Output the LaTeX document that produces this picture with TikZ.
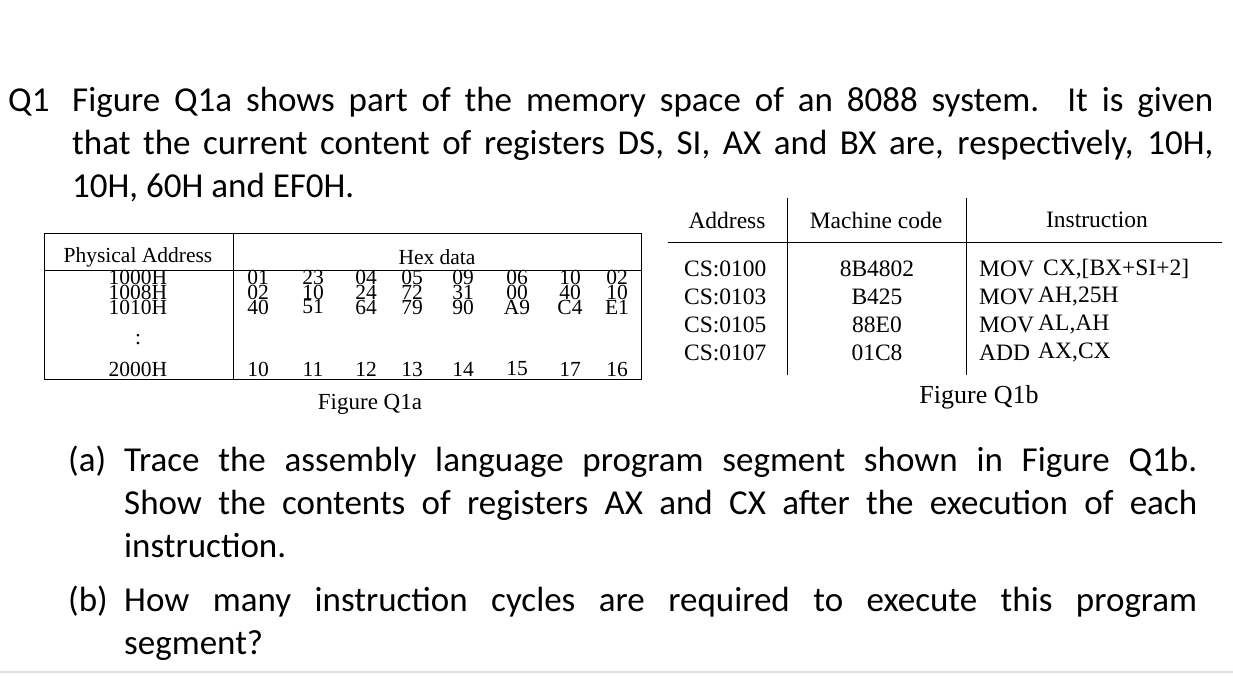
\documentclass[tikz,border=0pt]{standalone}
\usepackage{fontspec}
\setmainfont{Carlito}
\newfontfamily\tms{Liberation Serif}
\begin{document}
\begin{tikzpicture}[x=1pt,y=-1pt,
  body/.style={anchor=base west,inner sep=0pt,font=\fontsize{35}{35}\selectfont},
  tb/.style={inner sep=0pt,font=\tms\fontsize{21.5}{21.5}\selectfont},
  rb/.style={inner sep=0pt,font=\tms\fontsize{23.5}{23.5}\selectfont},
  rule/.style={line width=1pt}]
\useasboundingbox (0,0) rectangle (1233,677);
\node[body] (q) at (8,111) {Q1};
\node[body] (l1) at (72,111) {\makebox[1141pt][s]{Figure Q1a shows part of the memory space of an 8088 system. It is given}};
\node[body] (l2) at (72,154) {\makebox[1141pt][s]{that the current content of registers DS, SI, AX and BX are, respectively, 10H,}};
\node[body] (l3) at (72,197) {10H, 60H and EF0H.};
% left table
\draw[rule] (44,233) rectangle (641,379);
\draw[rule] (233,233) -- (233,379);
\draw[rule] (44,270) -- (641,270);
\node[tb] (pa) at (138,257) {Physical Address};
\node[tb] (hd) at (437,257) {Hex data};
\foreach \a/\y in {1000H/277,1008H/292,1010H/307,2000H/369}{\node[tb] at (138,\y) {\a};}
\node[tb] (dots) at (138,340) {:};
\foreach \r/\y in {{01,23,04,05,09,06,10,02}/277,{02,10,24,72,31,00,40,10}/292,{40,51,64,79,90,A9,C4,E1}/307,{10,11,12,13,14,15,17,16}/369}{
  \foreach \v [count=\i] in \r {
    \pgfmathsetmacro\xx{{258,313,366,412,463,517,570,617}[\i-1]}
    \node[tb] at (\xx,\y) {\v};}}
\node[inner sep=0pt,font=\tms\fontsize{23}{23}\selectfont] (c1) at (370,404) {Figure Q1a};
% right table
\draw[rule] (787,198) -- (787,375);
\draw[rule] (966,198) -- (966,375);
\draw[rule] (668,242) -- (1222,242);
\node[rb] (h1) at (727,220) {Address};
\node[rb] (h2) at (876,220) {Machine code};
\node[rb] (h3) at (1097,220) {Instruction};
\foreach \ad/\mc/\op/\ar/\ox/\y in {CS:0100/8B4802/MOV/{CX,[BX+SI+2]}/1043/269,CS:0103/B425/MOV/{AH,25H}/1038/297,CS:0105/88E0/MOV/{AL,AH}/1038/325,CS:0107/01C8/ADD/{AX,CX}/1038/353}{
  \node[rb,anchor=west] at (684,\y) {\ad};
  \node[rb] at (877,\y) {\mc};
  \node[rb,anchor=west] at (979,\y) {\op};
  \node[rb,anchor=west] at (\ox,\y) {\ar};}
\node[inner sep=0pt,font=\tms\fontsize{26}{26}\selectfont] (c2) at (979,397) {Figure Q1b};
% questions
\node[body] (a) at (68,471) {(a)};
\node[body] (a1) at (124,471) {\makebox[1073pt][s]{Trace the assembly language program segment shown in Figure Q1b.}};
\node[body] (a2) at (124,514) {\makebox[1073pt][s]{Show the contents of registers AX and CX after the execution of each}};
\node[body] (a3) at (124,557) {instruction.};
\node[body] (b) at (68,611) {(b)};
\node[body] (b1) at (124,611) {\makebox[1073pt][s]{How many instruction cycles are required to execute this program}};
\node[body] (b2) at (124,654) {segment?};
\draw[black!12,line width=1.5pt] (0,672) -- (1233,672);
\end{tikzpicture}
\end{document}
